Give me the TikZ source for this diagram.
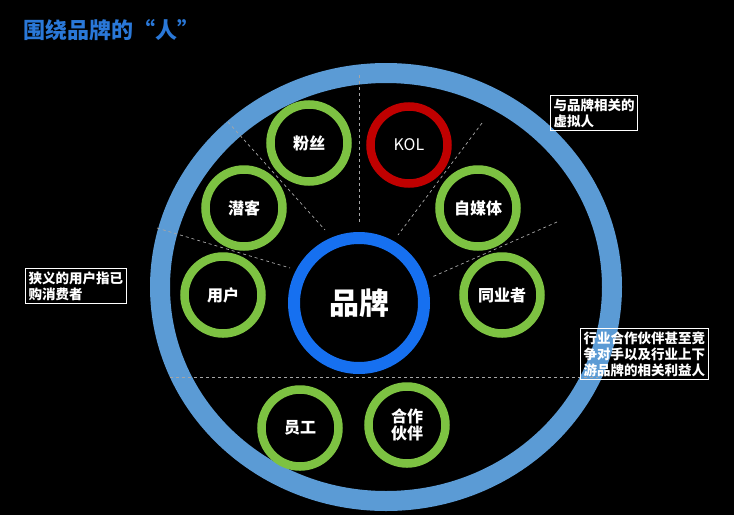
\documentclass[tikz,border=0pt]{standalone}
\usepackage{fontspec}
\setmainfont{Noto Sans CJK SC}
\begin{document}
\begin{tikzpicture}[x=1pt,y=-1pt,
 ringg/.style={circle,draw=ringgreen,line width=8.5pt,minimum size=77pt,inner sep=0pt,text=white,font=\bfseries\fontsize{16}{18}\selectfont,align=center},
 sep/.style={draw=gray!70,dashed,line width=0.7pt},
 note/.style={draw=white,line width=1pt,text=white,font=\bfseries\fontsize{13.5}{16}\selectfont,align=left,inner sep=3pt,anchor=north west}]
\definecolor{ringgreen}{HTML}{7DC242}
\definecolor{bigblue}{HTML}{5B9BD5}
\definecolor{brandblue}{HTML}{1670F0}
\definecolor{titleblue}{HTML}{2A78D8}
\definecolor{kolred}{HTML}{C00000}
\fill[black] (0,0) rectangle (734,515);
\useasboundingbox (0,0) rectangle (734,515);
\node[anchor=west,text=titleblue,font=\bfseries\fontsize{22}{24}\selectfont] (title) at (20,30) {围绕品牌的“人”};
\draw[bigblue,line width=20pt] (386,287) ellipse (226 and 214);
\coordinate (v1) at (359,75); \coordinate (v2) at (359,223);
\coordinate (a1) at (228,122); \coordinate (a2) at (325,230);
\coordinate (b1) at (157,228); \coordinate (b2) at (290,268);
\coordinate (c1) at (482,123); \coordinate (c2) at (398,235);
\coordinate (d1) at (557,222); \coordinate (d2) at (432,277);
\coordinate (h1) at (170,377); \coordinate (h2) at (598,377);
\draw[sep] (v1)--(v2); \draw[sep] (a1)--(a2); \draw[sep] (b1)--(b2);
\draw[sep] (c1)--(c2); \draw[sep] (d1)--(d2); \draw[sep] (h1)--(h2);
\node[circle,draw=brandblue,line width=12pt,minimum size=130pt,inner sep=0pt,text=white,font=\bfseries\fontsize{30}{34}\selectfont] (brand) at (359,303) {品牌};
\node[ringg] (fs) at (309,143) {粉丝};
\node[ringg,draw=kolred,font=\fontsize{16}{18}\selectfont] (kol) at (409,145) {KOL};
\node[ringg] (qk) at (244,208) {潜客};
\node[ringg] (zmt) at (478,208) {自媒体};
\node[ringg] (yh) at (223,295) {用户};
\node[ringg] (tyz) at (502,295) {同业者};
\node[ringg] (yg) at (300,428) {员工};
\node[ringg,font=\bfseries\fontsize{16}{17}\selectfont] (hz) at (407,425) {合作\\伙伴};
\node[note] (n1) at (550,95) {与品牌相关的\\虚拟人};
\node[note] (n2) at (25,268) {狭义的用户指已\\购消费者};
\node[note] (n3) at (580,328) {行业合作伙伴甚至竞\\争对手以及行业上下\\游品牌的相关利益人};
\end{tikzpicture}
\end{document}
